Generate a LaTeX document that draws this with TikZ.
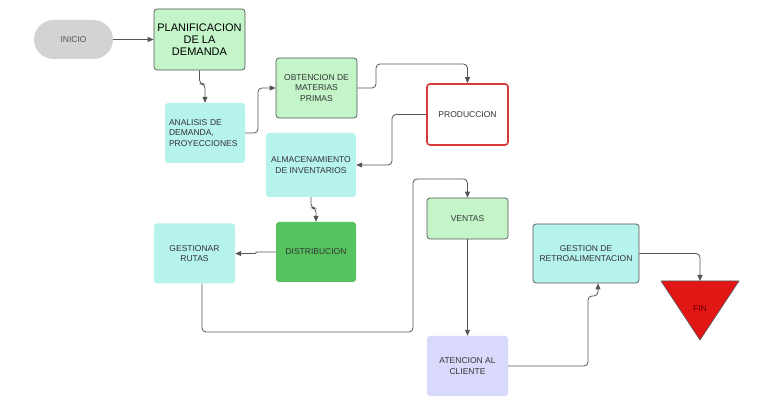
\documentclass[tikz,border=0pt]{standalone}
\usepackage{fontspec}
\setmainfont{Liberation Sans}
\usetikzlibrary{arrows.meta,calc}
\definecolor{txt}{HTML}{333333}
\definecolor{edge}{HTML}{555555}
\definecolor{pillgray}{HTML}{D3D3D6}
\definecolor{lgreen}{HTML}{C3F5C9}
\definecolor{cyanbox}{HTML}{B6F3ED}
\definecolor{dgreen}{HTML}{55C45F}
\definecolor{lav}{HTML}{D9D9FB}
\definecolor{redfin}{HTML}{E31616}
\definecolor{redbord}{HTML}{D63A3A}
\tikzset{
  box/.style={rectangle, rounded corners=3pt, inner sep=2pt, align=center, text=txt, font=\fontsize{8.5}{10.5}\selectfont},
  greenbox/.style={box, fill=lgreen, draw=edge, line width=0.7pt},
  cyanb/.style={box, fill=cyanbox},
  conn/.style={draw=edge, line width=0.8pt, rounded corners=4pt, -{Triangle[length=6pt,width=5pt]}},
}
\begin{document}
\begin{tikzpicture}[x=1pt,y=-1pt]
\useasboundingbox (0,0) rectangle (768,411);
% nodes
\node[box, fill=pillgray, rounded corners=19.5pt, minimum width=79pt, minimum height=39pt, text=edge] (ini) at (73.5,39.5) {INICIO};
\node[greenbox, minimum width=91pt, minimum height=61pt, font=\fontsize{11}{12}\selectfont, text=black] (plan) at (199.5,39.5) {PLANIFICACION\\DE LA\\DEMANDA};
\node[cyanb, minimum width=80pt, minimum height=60pt, align=left, text width=72pt] (ana) at (205,133) {ANALISIS DE\\DEMANDA,\\PROYECCIONES};
\node[greenbox, minimum width=81pt, minimum height=60pt] (obt) at (316.5,88) {OBTENCION DE\\MATERIAS\\PRIMAS};
\node[box, fill=white, draw=redbord, line width=1.6pt, minimum width=81pt, minimum height=61pt] (prod) at (467.5,114.5) {PRODUCCION};
\node[cyanb, minimum width=90pt, minimum height=64pt] (alm) at (311,165) {ALMACENAMIENTO\\DE INVENTARIOS};
\node[box, fill=dgreen, minimum width=80pt, minimum height=60pt] (dist) at (316,252) {DISTRIBUCION};
\node[cyanb, minimum width=81pt, minimum height=60pt] (gest) at (194.5,253.5) {GESTIONAR\\RUTAS};
\node[greenbox, minimum width=81pt, minimum height=41pt] (ven) at (467.5,218.5) {VENTAS};
\node[box, fill=lav, minimum width=81pt, minimum height=60pt] (aten) at (467.5,366) {ATENCION AL\\CLIENTE};
\node[cyanb, draw=edge, line width=0.7pt, minimum width=106pt, minimum height=59pt] (ret) at (586,253.5) {GESTION DE\\RETROALIMENTACION};
% FIN triangle
\filldraw[fill=redfin, draw=edge, line width=0.6pt, line join=round] (661,281) -- (739,281) -- (700,340) -- cycle;
\coordinate (fintop) at (700,281);
\node[box, text=black!60!red] (fin) at (700,309) {FIN};
% connectors
\draw[conn] (ini.east) -- (plan.west);
\draw[conn] (plan.south) -- (199.5,84) -| (ana.north);
\draw[conn] (ana.east) -- (258,133) |- (obt.west);
\draw[conn] (obt.east) -- (376,88) |- (467.5,64) -- (prod.north);
\draw[conn] (prod.west) -- (392,114.5) |- (alm.east);
\draw[conn] (alm.south) -- (311,208) -| (dist.north);
\draw[conn, rounded corners=0.7pt] (dist.west) -- (256,252) |- (gest.east);
\draw[conn] ([xshift=7.5pt]gest.south) |- (413,332) |- (467.5,179) -- (ven.north);
\draw[conn] (ven.south) -- (aten.north);
\draw[conn] (aten.east) -| (588,296) -| ([xshift=12pt]ret.south);
\draw[conn] (ret.east) -| (fintop);
\end{tikzpicture}
\end{document}
